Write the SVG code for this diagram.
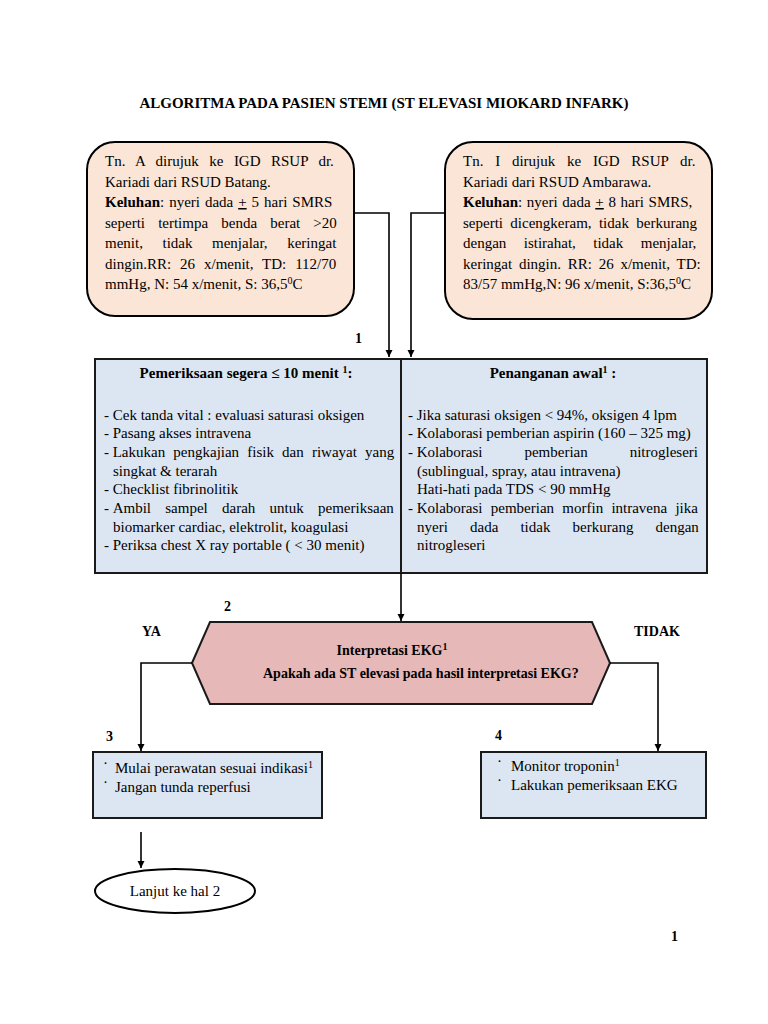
<svg xmlns="http://www.w3.org/2000/svg" width="768" height="1024" viewBox="0 0 768 1024">
<style>
.t{font-family:"Liberation Serif","Times New Roman",serif;font-size:15px;fill:#000}
.b{font-weight:bold}
.h{font-family:"Liberation Serif","Times New Roman",serif;font-size:14px;font-weight:bold;fill:#000}
.peach{fill:#FBE5D6;stroke:#000;stroke-width:2}
.blue{fill:#DCE6F2;stroke:#1a1a1a;stroke-width:2}
.hex{fill:#E6B9B8;stroke:#1a1a1a;stroke-width:2}
.conn{fill:none;stroke:#000;stroke-width:1.6}
.sup{font-size:10px}
</style>
<defs>
<marker id="arr" viewBox="0 0 10 10" refX="10" refY="5" markerWidth="7" markerHeight="9" markerUnits="userSpaceOnUse" orient="auto">
<path d="M0,0 L10,5 L0,10 z" fill="#000"/>
</marker>
</defs>
<rect width="768" height="1024" fill="#fff"/>

<text class="t b" x="384" y="108" text-anchor="middle">ALGORITMA PADA PASIEN STEMI (ST ELEVASI MIOKARD INFARK)</text>

<g id="node-pasien-a">
<rect class="peach" x="87" y="142" width="267" height="174" rx="28"/>
<text class="t" x="105" y="166" word-spacing="6.7">Tn. A dirujuk ke IGD RSUP dr.</text>
<text class="t" x="105" y="186.5">Kariadi dari RSUD Batang.</text>
<text class="t" x="105" y="207" word-spacing="1.2"><tspan class="b">Keluhan</tspan>: nyeri dada <tspan text-decoration="underline">+</tspan> 5 hari SMRS</text>
<text class="t" x="105" y="227.5" word-spacing="9.4">seperti tertimpa benda berat &gt;20</text>
<text class="t" x="105" y="248" word-spacing="15.8">menit, tidak menjalar, keringat</text>
<text class="t" x="105" y="268.5" word-spacing="5.1">dingin.RR: 26 x/menit, TD: 112/70</text>
<text class="t" x="105" y="289">mmHg, N: 54 x/menit, S: 36,5<tspan class="sup" baseline-shift="super">0</tspan>C</text>
</g>

<g id="node-pasien-i">
<rect class="peach" x="445" y="142" width="267" height="177" rx="28"/>
<text class="t" x="463" y="166" word-spacing="8">Tn. I dirujuk ke IGD RSUP dr.</text>
<text class="t" x="463" y="186.5">Kariadi dari RSUD Ambarawa.</text>
<text class="t" x="463" y="207" word-spacing="0.9"><tspan class="b">Keluhan</tspan>: nyeri dada <tspan text-decoration="underline">+</tspan> 8 hari SMRS,</text>
<text class="t" x="463" y="227.5" word-spacing="3.6">seperti dicengkeram, tidak berkurang</text>
<text class="t" x="463" y="248" word-spacing="13.7">dengan istirahat, tidak menjalar,</text>
<text class="t" x="463" y="268.5" word-spacing="3">keringat dingin. RR: 26 x/menit, TD:</text>
<text class="t" x="463" y="289">83/57 mmHg,N: 96 x/menit, S:36,5<tspan class="sup" baseline-shift="super">0</tspan>C</text>
</g>

<g id="node-pemeriksaan">
<rect class="blue" x="95" y="359" width="612" height="214"/>
<line x1="401" y1="359" x2="401" y2="573" stroke="#1a1a1a" stroke-width="2"/>
<text class="t b" x="246" y="378" text-anchor="middle">Pemeriksaan segera  ≤ 10 menit <tspan class="sup" baseline-shift="super">1</tspan>:</text>
<text class="t" x="104" y="419.5">- Cek tanda vital : evaluasi saturasi oksigen</text>
<text class="t" x="104" y="438.2">- Pasang akses intravena</text>
<text class="t" x="104" y="456.9">-</text>
<text class="t" x="112.7" y="456.9" word-spacing="4.4">Lakukan pengkajian fisik dan riwayat yang</text>
<text class="t" x="113" y="475.6">singkat &amp; terarah</text>
<text class="t" x="104" y="494.3">- Checklist fibrinolitik</text>
<text class="t" x="104" y="513">-</text>
<text class="t" x="112.7" y="513" word-spacing="10.5">Ambil sampel darah untuk pemeriksaan</text>
<text class="t" x="113" y="531.7">biomarker cardiac, elektrolit, koagulasi</text>
<text class="t" x="104" y="550.4">- Periksa chest X ray portable ( &lt; 30 menit)</text>
</g>

<g id="node-penanganan">
<text class="t b" x="553" y="378" text-anchor="middle">Penanganan awal<tspan class="sup" baseline-shift="super">1</tspan> :</text>
<text class="t" x="408" y="419.5">- Jika saturasi oksigen &lt; 94%, oksigen 4 lpm</text>
<text class="t" x="408" y="438.2">- Kolaborasi pemberian aspirin (160 – 325 mg)</text>
<text class="t" x="408" y="456.9">-</text>
<text class="t" x="416.7" y="456.9" word-spacing="38.2">Kolaborasi pemberian nitrogleseri</text>
<text class="t" x="417" y="475.6">(sublingual, spray, atau intravena)</text>
<text class="t" x="417" y="494.3">Hati-hati pada TDS &lt; 90 mmHg</text>
<text class="t" x="408" y="513">-</text>
<text class="t" x="416.7" y="513" word-spacing="4.5">Kolaborasi pemberian morfin intravena jika</text>
<text class="t" x="417" y="531.7" word-spacing="18.4">nyeri dada tidak berkurang dengan</text>
<text class="t" x="417" y="550.4">nitrogleseri</text>
</g>

<g id="node-ekg">
<polygon class="hex" points="192,663 210,622 592,622 610,663 592,704 210,704"/>
<text class="h" x="392" y="655" text-anchor="middle">Interpretasi EKG<tspan class="sup" baseline-shift="super">1</tspan></text>
<text class="h" x="263" y="678">Apakah ada ST elevasi pada hasil interpretasi EKG?</text>
</g>

<g id="node-ya">
<rect class="blue" x="93" y="752" width="229" height="66"/>
<text class="t" x="103" y="768" font-size="11">·</text>
<text class="t" x="115" y="773">Mulai perawatan sesuai indikasi<tspan class="sup" baseline-shift="super">1</tspan></text>
<text class="t" x="103" y="787" font-size="11">·</text>
<text class="t" x="115" y="792">Jangan tunda reperfusi</text>
</g>

<g id="node-tidak">
<rect class="blue" x="481" y="752" width="225" height="66"/>
<text class="t" x="497" y="766" font-size="11">·</text>
<text class="t" x="511" y="771">Monitor troponin<tspan class="sup" baseline-shift="super">1</tspan></text>
<text class="t" x="497" y="785" font-size="11">·</text>
<text class="t" x="511" y="790">Lakukan pemeriksaan EKG</text>
</g>

<g id="node-lanjut">
<ellipse cx="175" cy="891" rx="80" ry="22" fill="#fff" stroke="#000" stroke-width="2"/>
<text class="t" x="175" y="896" text-anchor="middle">Lanjut ke hal 2</text>
</g>

<g id="connectors">
<path class="conn" d="M354,213 H389 V357" marker-end="url(#arr)"/>
<path class="conn" d="M445,213 H411 V357" marker-end="url(#arr)"/>
<path class="conn" d="M401,573 V621" marker-end="url(#arr)"/>
<path class="conn" d="M192,663 H141 V751" marker-end="url(#arr)"/>
<path class="conn" d="M610,663 H658 V751" marker-end="url(#arr)"/>
<path class="conn" d="M141,832 V868" marker-end="url(#arr)"/>
</g>

<g id="labels">
<text class="h" x="355" y="343">1</text>
<text class="h" x="224" y="611">2</text>
<text class="h" x="142" y="636">YA</text>
<text class="h" x="634" y="636">TIDAK</text>
<text class="h" x="106" y="741">3</text>
<text class="h" x="495" y="740">4</text>
<text class="h" x="671" y="941">1</text>
</g>
</svg>
